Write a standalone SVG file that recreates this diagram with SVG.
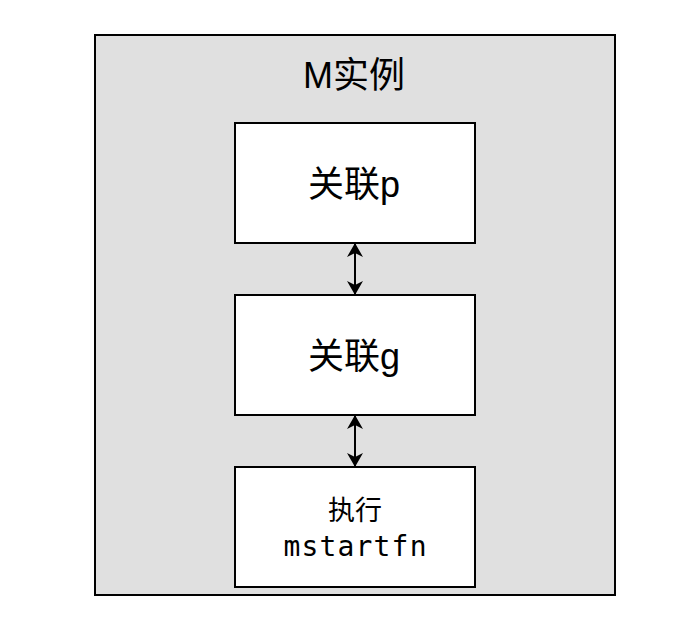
<svg xmlns="http://www.w3.org/2000/svg" width="688" height="624" viewBox="0 0 688 624">
<style>
.box{fill:#fff;stroke:#000;stroke-width:2}
.t{font-family:"Liberation Sans","Noto Sans CJK SC",sans-serif;text-anchor:middle;fill:#000}
.m{font-family:"DejaVu Sans Mono","Noto Sans CJK SC",monospace;text-anchor:middle;fill:#000}
.c{stroke:#000;stroke-width:2;fill:none;marker-start:url(#a);marker-end:url(#a)}
</style>
<defs><marker id="a" viewBox="0 0 14 16" refX="13" refY="8" markerWidth="14" markerHeight="16" orient="auto-start-reverse" markerUnits="userSpaceOnUse"><path d="M0,0 L14,8 L0,16 L4,8 Z" fill="#000"/></marker></defs>
<rect width="688" height="624" fill="#fff"/>
<g id="m"><rect x="95" y="35" width="520" height="560" fill="#e0e0e0" stroke="#000" stroke-width="2"/><text class="t" x="354" y="88" font-size="36">M实例</text></g>
<g id="p"><rect class="box" x="235" y="123" width="240" height="120"/><text class="t" x="354" y="197" font-size="36">关联p</text></g>
<g id="g"><rect class="box" x="235" y="295" width="240" height="120"/><text class="t" x="354" y="369" font-size="36">关联g</text></g>
<g id="e"><rect class="box" x="235" y="467" width="240" height="120"/><text class="m" x="355" y="520" font-size="27">执行</text><text class="m" x="355" y="556" font-size="28" textLength="143" lengthAdjust="spacing">mstartfn</text></g>
<g id="connectors">
<line class="c" x1="355" y1="244" x2="355" y2="294"/>
<line class="c" x1="355" y1="416" x2="355" y2="466"/>
</g>
</svg>
